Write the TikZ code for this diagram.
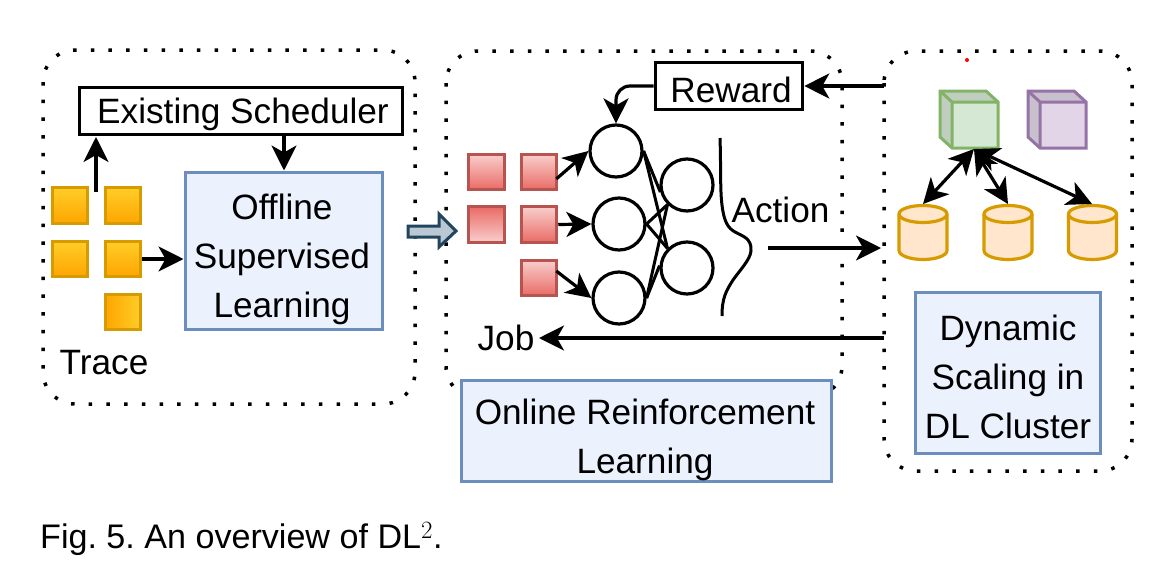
\documentclass[tikz,border=0pt]{standalone}
\usepackage{fontspec}
\setmainfont{Liberation Sans}
\frenchspacing
\usetikzlibrary{arrows.meta,calc}
\definecolor{bluefill}{HTML}{EBF1FD}
\definecolor{bluedraw}{HTML}{6C8EBF}
\definecolor{orangedraw}{HTML}{D79B00}
\definecolor{orangetop}{HTML}{FFCD28}
\definecolor{orangebot}{HTML}{FFA500}
\definecolor{reddraw}{HTML}{B85450}
\definecolor{redlight}{HTML}{F8CECC}
\definecolor{reddark}{HTML}{EA6B66}
\definecolor{cylfill}{HTML}{FFE6CC}
\definecolor{greendraw}{HTML}{82B366}
\definecolor{greenfill}{HTML}{D5E8D4}
\definecolor{purpledraw}{HTML}{9673A6}
\definecolor{purplefill}{HTML}{E1D5E7}
\definecolor{blockdraw}{HTML}{23445D}
\definecolor{blockfill}{HTML}{BAC8D3}
\tikzset{
  x=1pt,y=-1pt,
  lbl/.style={font=\fontsize{35.2}{49}\selectfont,inner sep=0pt,align=center},
  dotbox/.style={draw=black,line width=3.5pt,dash pattern=on 3.5pt off 14.2pt,rounded corners=32pt},
  bluebox/.style={draw=bluedraw,fill=bluefill,line width=3pt},
  blackbox/.style={draw=black,fill=white,line width=3.6pt},
  trace/.style={draw=orangedraw,line width=3pt,top color=orangetop,bottom color=orangebot,minimum size=35.5pt,inner sep=0pt},
  tracealt/.style={draw=orangedraw,line width=3pt,left color=orangebot,right color=orangetop,minimum size=35.5pt,inner sep=0pt},
  job/.style={draw=reddraw,line width=3pt,top color=redlight,bottom color=reddark,minimum size=35.5pt,inner sep=0pt},
  jobalt/.style={draw=reddraw,line width=3pt,top color=reddark,bottom color=redlight,minimum size=35.5pt,inner sep=0pt},
  neuron/.style={circle,draw=black,fill=white,line width=3.2pt,minimum size=52pt,inner sep=0pt},
  link/.style={draw=black,line width=3pt},
  arr/.style={draw=black,line width=3.2pt,-{Stealth[length=25pt,width=25pt,inset=7pt]}},
  biarr/.style={draw=black,line width=3.2pt,{Stealth[length=25pt,width=25pt,inset=7pt]}-{Stealth[length=25pt,width=25pt,inset=7pt]}},
  cylbody/.style={draw=orangedraw,fill=cylfill,line width=3.2pt},
}
\begin{document}
\begin{tikzpicture}
\useasboundingbox (0,0) rectangle (1170,573);
% dotted groups
\draw[dotbox] (43,50) rectangle (415,404);
\draw[dotbox] (446,51) rectangle (842,398);
\draw[dotbox] (884,51) rectangle (1132,471);
% left group
\node[blackbox,minimum width=323pt,minimum height=47pt,inner sep=0pt] (sched) at (241,111) {};
\node[lbl,anchor=center] (schedt) at (243,114.5) {Existing Scheduler};
\node[bluebox,minimum width=197pt,minimum height=157pt,inner sep=0pt] (off) at (283.5,250.5) {};
\node[lbl] (offt) at (282,259.5) {Offline\\Supervised\\Learning};
\node[trace] (t1) at (70,205.5) {};
\node[trace] (t2) at (123,205.5) {};
\node[trace] (t3) at (70,259) {};
\node[trace] (t4) at (123,259) {};
\node[tracealt] (t5) at (123,312) {};
\node[lbl] (tr) at (104,363) {Trace};
\coordinate (upfrom) at (96,192);
\coordinate (upto) at (96,137);
\draw[arr] (upfrom) -- (upto);
\draw[arr] (sched.south -| 284,0) -- (off.north -| 284,0);
\draw[arr] (t4.east) -- (off.west |- t4.east);
% transfer arrow
\draw[draw=blockdraw,fill=blockfill,line width=3pt,line join=miter] (408,226) -- (439,226) -- (439,214) -- (456,231) -- (439,247) -- (439,237) -- (408,237) -- cycle;
% middle group
\node[job] (j1) at (486.5,172) {};
\node[job] (j2) at (539,172) {};
\node[jobalt] (j3) at (486.5,224.5) {};
\node[job] (j4) at (539,224.5) {};
\node[job] (j5) at (539,278) {};
\node[neuron] (n1) at (616,151) {};
\node[neuron] (n2) at (619,224) {};
\node[neuron] (n3) at (619,298) {};
\node[neuron] (n4) at (687,185) {};
\node[neuron] (n5) at (687,268) {};
\draw[link] (n1.east) -- (n4.195);
\draw[link] (n1.east) -- (n5.north west);
\draw[link] (n2.east) -- (n4.south west);
\draw[link] (n2.east) -- (n5.north west);
\draw[link] (n3.east) -- (n4.south west);
\draw[link] (n3.east) -- (n5.175);
\draw[arr] ($(j2.east)+(-2,7)$) -- (n1.west);
\draw[arr] (j4.east) -- (n2.west);
\draw[arr] ($(j5.east)+(-2,-7)$) -- (n3.west);
\node[blackbox,minimum width=147pt,minimum height=47pt,inner sep=0pt] (rew) at (729,86) {};
\node[lbl] (rewt) at (731,90) {Reward};
\draw[arr,rounded corners=14pt] (rew.west) -- (616,86) -- (n1.north);
\coordinate (b1) at (720,138);
\coordinate (b2) at (722,316);
\draw[black,line width=3pt] (b1) .. controls (721,165) and (720,190) .. (722,205) .. controls (724,222) and (728,228) .. (735,232) .. controls (742,236) and (752,238) .. (751,251) .. controls (750,260) and (740,270) .. (733,280) .. controls (726,291) and (722,298) .. (b2);
\node[lbl] (act) at (780.5,210) {Action};
\node[lbl] (jobt) at (506,338) {Job};
\node[bluebox,minimum width=370pt,minimum height=101pt,inner sep=0pt] (onl) at (646,430.5) {};
\node[lbl] (onlt) at (645,439.5) {Online Reinforcement\\Learning};
% right group
\coordinate (g1) at (884,86);
\coordinate (g2) at (884,338);
\coordinate (a1) at (768,248);
\coordinate (a2) at (881,248);
\coordinate (jobend) at (539,338);
\draw[arr] (g1) -- (rew.east);
\draw[arr] (g2) -- (jobend);
\draw[arr] (a1) -- (a2);
\fill[red] (967,60) circle (2pt);
% cubes
\foreach \xx/\dc/\fc in {940/greendraw/greenfill,1028/purpledraw/purplefill}{
  \fill[\fc] (\xx+12,102) rectangle (\xx+58,148);
  \fill[\fc!75!gray] (\xx,91) -- (\xx+46,91) -- (\xx+58,102) -- (\xx+12,102) -- cycle;
  \fill[\fc!75!gray] (\xx,91) -- (\xx+12,102) -- (\xx+12,148) -- (\xx,137) -- cycle;
  \draw[\dc,line width=3pt,line join=miter] (\xx,91) -- (\xx+46,91) -- (\xx+58,102) -- (\xx+58,148) -- (\xx+12,148) -- (\xx,137) -- cycle;
  \draw[\dc,line width=3pt] (\xx,91) -- (\xx+12,102) -- (\xx+58,102) (\xx+12,102) -- (\xx+12,148);
}
\coordinate (hub) at (974,149);
% cylinders
\foreach \cx in {923,1008,1092.5}{
  \draw[cylbody] (\cx-24,214) arc[start angle=180,end angle=0,x radius=24pt,y radius=8.5pt] -- (\cx+24,250.5) arc[start angle=0,end angle=-180,x radius=24pt,y radius=9pt] -- cycle;
  \draw[cylbody,fill=none] (\cx-24,214) arc[start angle=180,end angle=360,x radius=24pt,y radius=8.5pt];
}
\coordinate (c1) at (923,204);
\coordinate (c2) at (1008,204);
\coordinate (c3) at (1092,204);
\draw[biarr] (hub) -- (c1);
\draw[biarr] (hub) -- (c2);
\draw[biarr] (hub) -- (c3);
\node[bluebox,minimum width=185pt,minimum height=161pt,inner sep=0pt] (dyn) at (1007.5,372.5) {};
\node[lbl] (dynt) at (1008,377) {Dynamic\\Scaling in\\DL Cluster};
% caption
\node[font=\fontsize{34.1}{40}\selectfont,inner sep=0pt,anchor=base west] (cap) at (40,548) {Fig. 5. An overview of DL$^{2}$.};
\end{tikzpicture}
\end{document}
